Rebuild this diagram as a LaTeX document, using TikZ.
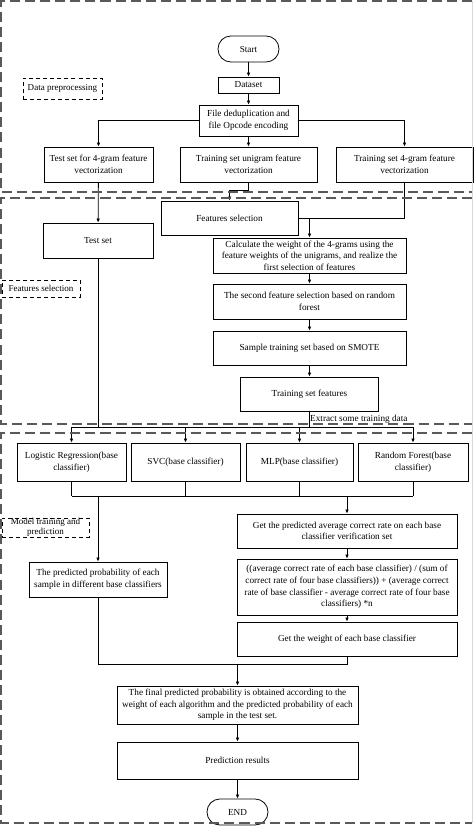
\documentclass[tikz,border=0pt]{standalone}
\usepackage{fontspec}
\setmainfont{Liberation Serif}
\usetikzlibrary{arrows.meta,positioning,calc}
\newcommand{\pxu}{0.035cm}

\begin{document}
\begin{tikzpicture}[
  x=0.035cm, y=-0.035cm,
  font=\fontsize{9.2}{11.6}\selectfont,
  sz/.style 2 args={minimum width=#1*\pxu, minimum height=#2*\pxu},
  box/.style={
    rectangle, draw, line width=0.8pt, fill=white,
    align=center, inner sep=1pt
  },
  term/.style={box, rounded corners=0.45cm},
  tag/.style={
    rectangle, draw, dash pattern=on 4pt off 3pt, line width=0.6pt,
    align=center, inner sep=0pt, font=\fontsize{9}{9.5}\selectfont
  },
  zone/.style={dash pattern=on 10pt off 5pt, line width=1.5pt, black!65},
  edge/.style={line width=1pt, black!15},
  line/.style={line width=0.8pt},
  ptr/.style={-{Latex[length=4pt,width=3.6pt]}, line width=0.8pt}
]
  \useasboundingbox (0,0) rectangle (474,826);

  \node[term, sz={61}{26}] (start) at (248.5,49) {Start};
  \node[box, sz={61}{16}] (data) at (248.5,85) {Dataset};
  \node[box, sz={99}{31}] (dedup) at (248.5,120.5) {File deduplication and\\file Opcode encoding};
  \node[box, sz={109}{35}] (t4) at (98.5,164.5) {Test set for 4-gram feature\\vectorization};
  \node[box, sz={137}{35}] (uni) at (248.5,164.5) {Training set unigram feature\\vectorization};
  \node[box, sz={137}{35}] (tr4) at (404.5,164.5) {Training set 4-gram feature\\vectorization};
  \node[tag, sz={79}{21}] (tagprep) at (62.5,88.5) {Data preprocessing};

  \node[box, sz={137}{34}] (fsel) at (229.5,218) {Features selection};
  \node[box, sz={110}{35}] (tset) at (98,240.5) {Test set};
  \node[box, sz={193}{35}] (calc) at (309.5,255.5) {Calculate the weight of the 4-grams using the\\feature weights of the unigrams, and realize the\\first selection of features};
  \node[box, sz={193}{35}] (second) at (309.5,301.5) {The second feature selection based on random\\forest};
  \node[box, sz={193}{34}] (smote) at (309.5,348) {Sample training set based on SMOTE};
  \node[box, sz={138}{34}] (tfeat) at (309.5,394) {Training set features};
  \node[tag, sz={78}{17}] (tagfsel) at (41,288.5) {Features selection};
  \node[anchor=west, inner sep=0pt] (extract) at (310,419) {Extract some training data};

  \node[box, sz={109}{38}] (lr) at (71.5,462) {Logistic Regression(base\\classifier)};
  \node[box, sz={109}{38}] (svc) at (185.5,462) {SVC(base classifier)};
  \node[box, sz={107}{38}] (mlp) at (299.5,462) {MLP(base classifier)};
  \node[box, sz={110}{38}] (rfc) at (413,462) {Random Forest(base\\classifier)};
  \node[box, sz={220}{34}] (avg) at (347,531) {Get the predicted average correct rate on each base\\classifier verification set};
  \node[box, sz={138}{35}] (prob) at (98,579.5) {The predicted probability of each\\sample in different base classifiers};
  \node[box, sz={220}{56}] (frm) at (347,587) {((average correct rate of each base classifier) / (sum of\\correct rate of four base classifiers)) + (average correct\\rate of base classifier - average correct rate of four base\\classifiers) *n};
  \node[box, sz={220}{34}] (wgt) at (347,639) {Get the weight of each base classifier};
  \node[box, sz={241}{38}] (final) at (237.5,705) {The final predicted probability is obtained according to the\\weight of each algorithm and the predicted probability of each\\sample in the test set.};
  \node[box, sz={241}{37}] (res) at (237.5,760.5) {Prediction results};
  \node[term, sz={61}{26}] (end) at (237.5,812) {END};
  \node[tag, sz={87}{19}] (tagmodel) at (45.5,527.5) {Model training and\\prediction};

  \coordinate (bus) at (0,427);
  \coordinate (bus2) at (0,496);
  \coordinate (join) at (0,664);

  \draw[ptr] (start) -- (data);
  \draw[ptr] (data) -- (dedup);
  \draw[ptr] (dedup) -- (uni);
  \draw[ptr] (dedup.west) -| (t4.north);
  \draw[ptr] (dedup.east) -| (tr4.north);
  \draw[ptr] (uni.south) -- ++(0,8) -| (fsel.north);
  \draw[line] (tr4.south) |- (fsel.east);
  \draw[ptr] (calc.north |- fsel.east) -- (calc.north);
  \draw[ptr] (t4) -- (tset);
  \draw[ptr] (calc) -- (second);
  \draw[ptr] (second) -- (smote);
  \draw[ptr] (smote) -- (tfeat);

  \draw[line] (tset.south) -- (tset.south |- bus);
  \draw[line] (tfeat.south) -- (tfeat.south |- bus);
  \draw[line] (lr.north |- bus) -- (rfc.north |- bus);
  \foreach \c in {lr,svc,mlp,rfc}
    \draw[ptr] (\c.north |- bus) -- (\c.north);

  \foreach \c in {lr,svc,mlp,rfc}
    \draw[line] (\c.south) -- (\c.south |- bus2);
  \draw[line] (lr.south |- bus2) -- (rfc.south |- bus2);
  \draw[ptr] (prob.north |- bus2) -- (prob.north);
  \draw[ptr] (avg.north |- bus2) -- (avg.north);
  \draw[ptr] (avg) -- (frm);
  \draw[ptr] (frm) -- (wgt);
  \draw[line] (prob.south) -- (prob.south |- join) -- (wgt.south |- join) -- (wgt.south);
  \draw[ptr] (final.north |- join) -- (final.north);
  \draw[ptr] (final) -- (res);
  \draw[ptr] (res) -- (end);

  \draw[edge] (472.5,1) -- (472.5,823);
  \draw[zone] (472,1) -- (1,1) -- (1,192) -- (472,192);
  \draw[zone] (472,198) -- (1,198) -- (1,424) -- (472,424);
  \draw[zone] (472,433) -- (1,433) -- (1,823) -- (472,823);
\end{tikzpicture}
\end{document}
